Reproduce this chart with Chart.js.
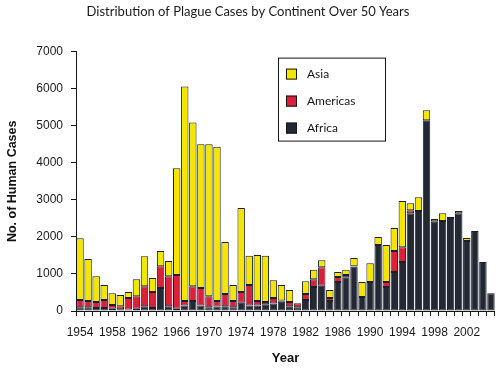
<!DOCTYPE html>
<html>
<head>
<meta charset="utf-8">
<script src="https://cdn.jsdelivr.net/npm/chart.js@4/dist/chart.umd.min.js"></script>
<style>
  html, body { margin: 0; padding: 0; background: #fff; }
  canvas { display: block; }
</style>
</head>
<body>
<canvas id="plague" width="500" height="368"></canvas>
<script>
var years = ["1954","1955","1956","1957","1958","1959","1960","1961","1962","1963",
             "1964","1965","1966","1967","1968","1969","1970","1971","1972","1973",
             "1974","1975","1976","1977","1978","1979","1980","1981","1982","1983",
             "1984","1985","1986","1987","1988","1989","1990","1991","1992","1993",
             "1994","1995","1996","1997","1998","1999","2000","2001","2002","2003",
             "2004","2005"];

// cases per year
var africa = [100,100,80,80,60,50,40,60,130,80,
              620,130,60,150,270,150,100,120,130,100,
              220,150,150,180,200,250,130,100,300,650,
              680,270,780,910,1200,380,780,1780,650,1050,
              1320,2640,2700,5150,2420,2430,2510,2640,1890,2160,
              1320,480];
var americas = [200,170,160,220,100,80,310,340,540,430,
                590,810,910,120,400,470,300,150,330,170,
                290,550,120,60,150,30,110,110,160,210,
                500,80,140,60,10,0,0,0,130,570,
                400,80,0,0,0,0,0,0,0,0,
                0,0];
var asia = [1660,1130,700,400,320,300,160,460,810,380,
            410,410,2880,5790,4420,3880,4100,4160,1400,430,
            2270,790,1240,1250,480,420,330,0,340,250,
            190,220,130,140,220,400,510,220,1000,620,
            1250,190,370,270,60,210,30,60,80,0,
            0,0];

var yTicks = [0,1000,2000,3000,4000,5000,6000,7000];

var colors = { africa: "#222834", americas: "#dc1f3b", asia: "#f4e600" };
var ink = "#151515";

// legend drawn as a box inside the plot, Asia on top
var legendBox = {
  id: "legendBox",
  afterDraw: function(chart) {
    var ctx = chart.ctx;
    var a = chart.chartArea;
    var x = a.left + 202, y = a.top + 6;
    ctx.save();
    ctx.fillStyle = "#fff";
    ctx.fillRect(x, y, 107, 83);
    ctx.strokeStyle = ink;
    ctx.lineWidth = 1;
    ctx.strokeRect(x + 0.5, y + 0.5, 107, 83);
    var ds = chart.data.datasets;
    var order = [2, 1, 0];
    ctx.font = "12px Lato";
    ctx.textBaseline = "middle";
    for (var i = 0; i < order.length; i++) {
      var d = ds[order[i]];
      var sy = y + 11 + i * 27;
      ctx.fillStyle = d.backgroundColor;
      ctx.fillRect(x + 8, sy, 11, 11);
      ctx.strokeStyle = ink;
      ctx.strokeRect(x + 8.5, sy + 0.5, 10, 10);
      ctx.fillStyle = ink;
      ctx.fillText(d.label, x + 29, sy + 6);
    }
    ctx.restore();
  }
};

new Chart("plague", {
  type: "bar",
  data: {
    labels: years,
    datasets: [
      { label: "Africa", data: africa, backgroundColor: colors.africa },
      { label: "Americas", data: americas, backgroundColor: colors.americas },
      { label: "Asia", data: asia, backgroundColor: colors.asia }
    ]
  },
  options: {
    responsive: false,
    animation: false,
    layout: { padding: { left: 0, right: 4, top: 0, bottom: 0 } },
    datasets: {
      bar: {
        barPercentage: 0.92,
        categoryPercentage: 1.0,
        borderWidth: 1,
        borderColor: "#1b1f28",
        borderSkipped: false
      }
    },
    plugins: {
      legend: { display: false },
      tooltip: { enabled: false },
      title: {
        display: true,
        text: "Distribution of Plague Cases by Continent Over 50 Years",
        color: "#1a1a1a",
        font: { family: "Lato", size: 13, weight: "normal" },
        padding: { top: 4, bottom: 32 }
      }
    },
    scales: {
      x: {
        stacked: true,
        afterFit: function(scale) { scale.height = 57; },
        border: { display: true, color: ink, width: 1 },
        grid: { drawOnChartArea: false, drawTicks: true, tickLength: 5, color: ink },
        ticks: {
          autoSkip: false,
          maxRotation: 0,
          padding: 9,
          color: "#1a1a1a",
          font: { family: "Liberation Sans", size: 12 },
          callback: function(v, i) {
            return (i % 4 === 0 && i < 50) ? years[i] : "";
          }
        },
        title: {
          display: true,
          text: "Year",
          color: "#111",
          font: { family: "Liberation Sans", size: 13, weight: "bold" },
          padding: { top: 0, bottom: 2 }
        }
      },
      y: {
        stacked: true,
        min: 0,
        max: 7000,
        afterFit: function(scale) { scale.width = 76; },
        afterBuildTicks: function(scale) {
          scale.ticks = yTicks.map(function(v) { return { value: v }; });
        },
        border: { display: true, color: ink, width: 1 },
        grid: { drawOnChartArea: false, drawTicks: true, tickLength: 5, color: ink },
        ticks: {
          padding: 8,
          color: "#1a1a1a",
          font: { family: "Liberation Sans", size: 12 },
          callback: function(v) { return String(v); }
        },
        title: {
          display: true,
          text: "No. of Human Cases",
          color: "#111",
          font: { family: "Liberation Sans", size: 12.5, weight: "bold" },
          padding: { top: 5, bottom: 4 }
        }
      }
    }
  },
  plugins: [legendBox]
});
</script>
</body>
</html>
